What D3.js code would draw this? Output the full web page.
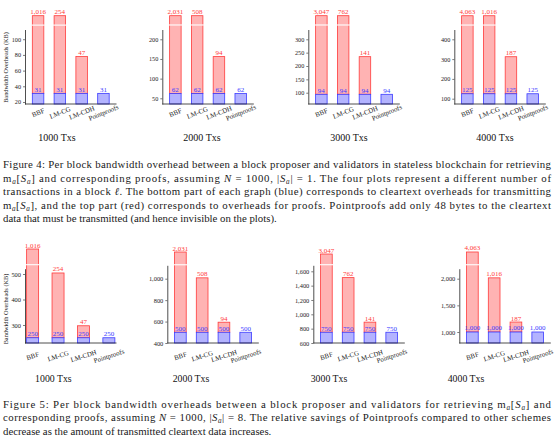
<!DOCTYPE html>
<html>
<head>
<meta charset="utf-8">
<script src="https://cdn.jsdelivr.net/npm/d3@7"></script>
<style>
  body { margin: 0; background: #fff; }
  svg { display: block; }
  svg text { font-family: "Liberation Serif", "Times New Roman", "DejaVu Serif", serif; }
</style>
</head>
<body>
<svg id="fig" width="555" height="441"></svg>
<script>
const schemes = ['BBF', 'LM-CG', 'LM-CDH', 'Pointproofs'];
const txLabels = ['1000 Txs', '2000 Txs', '3000 Txs', '4000 Txs'];

// proof overhead in KB, one row per block size (Pointproofs: 48 bytes, not drawn)
const proofKB = [
  [1016, 254, 47, 0],
  [2031, 508, 94, 0],
  [3047, 762, 141, 0],
  [4063, 1016, 187, 0]
];
// cleartext overhead in KB per block size
const cleartextFig4 = [31, 62, 94, 125];
const cleartextFig5 = [250, 500, 750, 1000];

const ticksFig4 = [[20, 40, 60, 80, 100], [50, 100, 150, 200], [100, 150, 200, 250, 300], [100, 200, 300, 400]];
const ticksFig5 = [[300, 400, 500], [400, 600, 800, 1000], [600, 800, 1000, 1200, 1400, 1600], [1000, 1500, 2000]];

// captions: plain strings, {i: ...} italic, {sub: ...} subscript
const mSa = ['m', { sub: 'a' }, '[', { i: 'S' }, { sub: 'a' }, ']'];
const captionFig4 = [
  ['Figure 4: Per block bandwidth overhead between a block proposer and validators in stateless blockchain for retrieving'],
  [...mSa, ' and corresponding proofs, assuming ', { i: 'N' }, ' = 1000, |', { i: 'S' }, { sub: 'a' }, '| = 1. The four plots represent a different number of'],
  ['transactions in a block ', { i: 'ℓ' }, '. The bottom part of each graph (blue) corresponds to cleartext overheads for transmitting'],
  [...mSa, ', and the top part (red) corresponds to overheads for proofs. Pointproofs add only 48 bytes to the cleartext'],
  ['data that must be transmitted (and hence invisible on the plots).']
];
const captionFig5 = [
  ['Figure 5: Per block bandwidth overheads between a block proposer and validators for retrieving ', ...mSa, ' and'],
  ['corresponding proofs, assuming ', { i: 'N' }, ' = 1000, |', { i: 'S' }, { sub: 'a' }, '| = 8. The relative savings of Pointproofs compared to other schemes'],
  ['decrease as the amount of transmitted cleartext data increases.']
];

const SERIF = '"Liberation Serif", "Times New Roman", "DejaVu Serif", serif';
const RED = '#ff3b3b', RED_FILL = '#ffb3b3', BLUE = '#3b3bff', BLUE_FILL = '#b3b3ff';

const rows = [
  {
    clear: cleartextFig4, ticks: ticksFig4, bottom: 104, labelDy: 8.5, rot: -22,
    tickFont: 6.2, titleY: 140.5, titleFont: 10, ylabelY: 67.5,
    panels: [
      { left: 25, top: 29.5, pad: 0.6, barW: 11.5, domain: [17.45, 112.4], cap: 130, brk: 118, titleX: 57 },
      { left: 162.3, top: 29.5, pad: 0.6, barW: 11.5, domain: [35.5, 224.9], cap: 260, brk: 236.4, titleX: 202 },
      { left: 308.3, top: 29.5, pad: 0.6, barW: 11.5, domain: [57.7, 336.7], cap: 388.4, brk: 353.6, titleX: 349 },
      { left: 454.3, top: 29.5, pad: 0.6, barW: 11.5, domain: [73.2, 449.5], cap: 519, brk: 472, titleX: 495 }
    ]
  },
  {
    clear: cleartextFig5, ticks: ticksFig5, bottom: 343, labelDy: 12.8, rot: -18,
    tickFont: 6.4, titleY: 381.5, titleFont: 9.8, ylabelY: 309,
    panels: [
      { left: 25, top: 268.7, pad: 0.3, barW: 12, domain: [229.4, 520.8], cap: 598, brk: 536.5, titleX: 53.4 },
      { left: 167.3, top: 265.3, pad: 0.6, barW: 11.7, domain: [400, 1125], cap: 1249, brk: 1130, titleX: 191 },
      { left: 313.3, top: 265.3, pad: 0.6, barW: 11.7, domain: [600, 1683.7], cap: 1841, brk: 1692, titleX: 329 },
      { left: 459.3, top: 268.7, pad: 0.6, barW: 11.7, domain: [793.6, 2187.6], cap: 2501, brk: 2262, titleX: 466 }
    ]
  }
];

const svg = d3.select('#fig').attr('font-family', SERIF);
const fmt = d3.format(',');
const axisW = 91.5;

rows.forEach(row => {
  row.panels.forEach((p, k) => {
    const g = svg.append('g');
    const x = d3.scalePoint().domain(schemes).range([p.left, p.left + axisW]).padding(p.pad);
    const y = d3.scaleLinear().domain(p.domain).range([row.bottom, p.top]);
    const clear = row.clear[k];
    const bars = schemes.map((s, i) => {
      const total = clear + proofKB[k][i];
      return { s, clear, proof: proofKB[k][i], total, shown: Math.min(total, p.cap), cut: total > p.brk };
    });

    // proofs (red) part
    g.selectAll('rect.proof')
      .data(bars.filter(d => d.proof > 0))
      .enter()
      .append('rect')
      .attr('class', 'proof')
      .attr('x', d => x(d.s) - p.barW / 2)
      .attr('width', p.barW)
      .attr('y', d => y(d.shown))
      .attr('height', d => y(d.clear) - y(d.shown))
      .attr('fill', RED_FILL)
      .attr('stroke', RED)
      .attr('stroke-width', 0.8);

    // cleartext (blue) part
    g.selectAll('rect.clear')
      .data(bars)
      .enter()
      .append('rect')
      .attr('class', 'clear')
      .attr('x', d => x(d.s) - p.barW / 2)
      .attr('width', p.barW)
      .attr('y', d => y(d.clear))
      .attr('height', d => row.bottom - y(d.clear))
      .attr('fill', BLUE_FILL)
      .attr('stroke', BLUE)
      .attr('stroke-width', 0.8);

    // break marks on bars that run off the axis
    g.selectAll('line.brk')
      .data(bars.filter(d => d.cut))
      .enter()
      .append('line')
      .attr('x1', d => x(d.s) - p.barW / 2 - 1)
      .attr('x2', d => x(d.s) + p.barW / 2 + 1)
      .attr('y1', y(p.brk))
      .attr('y2', y(p.brk))
      .attr('stroke', '#fff')
      .attr('stroke-width', 1.1);

    // value labels
    g.selectAll('text.pv')
      .data(bars.filter(d => d.proof > 0))
      .enter()
      .append('text')
      .attr('x', d => x(d.s))
      .attr('y', d => y(d.shown) - 1.5)
      .attr('text-anchor', 'middle')
      .attr('font-size', 7)
      .attr('fill', RED)
      .text(d => fmt(d.proof));

    g.selectAll('text.cv')
      .data(bars)
      .enter()
      .append('text')
      .attr('x', d => x(d.s))
      .attr('y', d => y(d.clear) - 1.5)
      .attr('text-anchor', 'middle')
      .attr('font-size', 7)
      .attr('fill', BLUE)
      .text(d => fmt(d.clear));

    // y axis
    const ya = g.append('g')
      .attr('transform', `translate(${p.left},0)`)
      .call(d3.axisLeft(y).tickValues(row.ticks[k]).tickSize(2).tickSizeOuter(0).tickPadding(2).tickFormat(fmt))
      .attr('font-family', SERIF);
    ya.select('.domain').attr('stroke', '#222').attr('stroke-width', 0.8);
    ya.selectAll('.tick line').attr('stroke', '#222').attr('stroke-width', 0.6);
    ya.selectAll('.tick text')
      .attr('font-size', row.tickFont)
      .attr('fill', '#222');

    // x axis line
    g.append('line')
      .attr('x1', p.left)
      .attr('x2', p.left + axisW)
      .attr('y1', row.bottom)
      .attr('y2', row.bottom)
      .attr('stroke', '#222')
      .attr('stroke-width', 0.8);

    // rotated scheme labels
    g.selectAll('text.cat')
      .data(schemes)
      .enter()
      .append('text')
      .attr('transform', d => `translate(${x(d)},${row.bottom + row.labelDy}) rotate(${row.rot})`)
      .attr('text-anchor', 'middle')
      .attr('dominant-baseline', 'central')
      .attr('font-size', 6.8)
      .attr('fill', '#222')
      .text(d => d);

    // panel title
    g.append('text')
      .attr('x', p.titleX)
      .attr('y', row.titleY)
      .attr('text-anchor', 'middle')
      .attr('font-size', row.titleFont)
      .attr('fill', '#111')
      .text(txLabels[k]);

    if (k === 0) {
      g.append('text')
        .attr('transform', `translate(5.6,${row.ylabelY}) rotate(-90)`)
        .attr('text-anchor', 'middle')
        .attr('dominant-baseline', 'central')
        .attr('font-size', 6.3)
        .attr('fill', '#222')
        .text('Bandwidth Overheads (KB)');
    }
  });
});

function caption(lines, y0) {
  lines.forEach((segs, li) => {
    const t = svg.append('text')
      .attr('x', 3)
      .attr('y', y0 + li * 13.5)
      .attr('font-size', 10.8)
      .attr('fill', '#1a1a1a');
    if (li < lines.length - 1) t.attr('textLength', 548).attr('lengthAdjust', 'spacing');
    let shift = 0;
    segs.forEach(s => {
      const ts = t.append('tspan');
      let dy = 0;
      if (typeof s === 'string') {
        ts.text(s);
        dy = -shift; shift = 0;
      } else if (s.i) {
        ts.text(s.i).attr('font-style', 'italic');
        dy = -shift; shift = 0;
      } else if (s.sub) {
        ts.text(s.sub).attr('font-style', 'italic').attr('font-size', 7.2);
        dy = 2.4 - shift; shift = 2.4;
      }
      if (dy) ts.attr('dy', dy);
    });
  });
}

caption(captionFig4, 168);
caption(captionFig5, 407.5);
</script>
</body>
</html>
